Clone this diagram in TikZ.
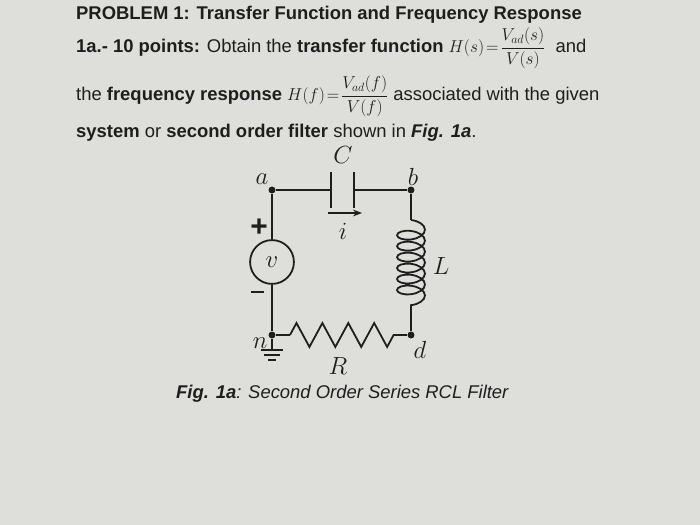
\documentclass[tikz,border=0pt]{standalone}
\usepackage{fontspec}
\setmainfont{Liberation Sans}
\usetikzlibrary{decorations.pathmorphing,arrows.meta}
\definecolor{paper}{RGB}{222,222,219}
\definecolor{ink}{RGB}{30,30,30}
\begin{document}
\begin{tikzpicture}[x=1bp,y=-1bp,
  txt/.style={anchor=west,inner sep=0pt,text=ink,font=\fontsize{18.5}{22}\selectfont},
  wire/.style={draw=ink,line width=1.8pt},
  dot/.style={circle,fill=ink,inner sep=0pt,minimum size=7pt},
  lbl/.style={text=ink,font=\fontsize{23}{25}\selectfont\itshape}]
\fill[paper] (0,0) rectangle (700,525);
\useasboundingbox (0,0) rectangle (700,525);
\node[txt] (t1) at (76,15) {\textbf{PROBLEM 1: Transfer Function and Frequency Response}};
\node[txt] (t2) at (76,48) {\textbf{1a.- 10 points:} Obtain the \textbf{transfer function} $\displaystyle H(s)\!=\!\frac{V_{ad}(s)}{V(s)}$\ \ and};
\node[txt] (t3) at (76,96) {the \textbf{frequency response} $\displaystyle H(f)\!=\!\frac{V_{ad}(f)}{V(f)}$\ associated with the given};
\node[txt] (t4) at (76,133) {\textbf{system} or \textbf{second order filter} shown in \textbf{\textit{Fig. 1a}}.};
\node[txt] (cap) at (176,394) {\textbf{\textit{Fig. 1a}}\textit{: Second Order Series RCL Filter}};
% circuit
\node[dot] (a) at (272,190) {};
\node[dot] (b) at (411,190) {};
\node[dot] (n) at (272,335) {};
\node[dot] (d) at (411,335) {};
\node[draw=ink,line width=1.8pt,circle,minimum size=44pt,inner sep=0pt] (v) at (272,262) {};
\node[lbl] at (v) {$v$};
\coordinate (c1) at (331,190);
\coordinate (c2) at (354,190);
\draw[wire] (a) -- (c1) (c2) -- (b);
\draw[wire] (331,172) -- (331,208) (354,172) -- (354,208);
\draw[wire,-{Stealth[length=9pt]}] (328,213) -- (362,213);
\node[lbl] at (343,155) {$C$};
\node[lbl] at (343,231) {$i$};
\node[lbl] at (262,179) {$a$};
\node[lbl] at (413,177) {$b$};
\node[lbl] at (260,343) {$n$};
\node[lbl] at (420,350) {$d$};
\node[lbl] at (441,266) {$L$};
\node[lbl] at (338,366) {$R$};
\node[text=ink,font=\fontsize{30}{30}\selectfont\bfseries] at (259,228) {+};
\draw[ink,line width=2.5pt] (251,292) -- (264,292);
\draw[wire] (a) -- (v.north) (v.south) -- (n);
% inductor
\coordinate (l1) at (411,220);
\coordinate (l2) at (411,310);
\draw[wire] (b) -- (l1);
\draw[wire] (l2) -- (d);
\draw[wire,decorate,decoration={coil,aspect=0.5,segment length=11pt,amplitude=14pt}] (l1) -- (l2);
% resistor
\coordinate (r1) at (290,335);
\coordinate (r2) at (397,335);
\draw[wire] (n) -- (r1);
\draw[wire] (r2) -- (d);
\draw[wire,decorate,decoration={zigzag,segment length=26pt,amplitude=12pt}] (r1) -- (r2);
% ground
\draw[wire] (n) -- (272,350);
\draw[wire] (261,350) -- (283,350) (264,355) -- (280,355) (268,360) -- (276,360);
\end{tikzpicture}
\end{document}
